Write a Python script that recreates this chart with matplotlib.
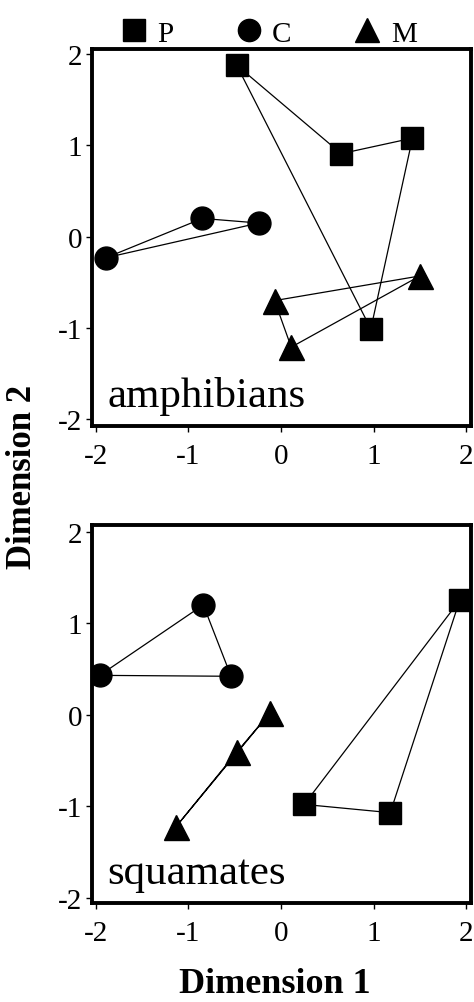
import matplotlib
matplotlib.use("Agg")
import matplotlib.pyplot as plt
from matplotlib.lines import Line2D

plt.rcParams['font.family'] = ['Liberation Serif', 'DejaVu Serif']

# ---- data (Dimension 1, Dimension 2) ----
amph_P_x = [-0.48, 0.65, 1.42, 0.97]
amph_P_y = [1.88, 0.91, 1.08, -1.01]
amph_C_x = [-0.85, -0.24, -1.89]
amph_C_y = [0.20, 0.15, -0.23]
amph_M_x = [1.50, -0.07, 0.11]
amph_M_y = [-0.43, -0.70, -1.21]

squa_P_x = [1.93, 0.25, 1.18]
squa_P_y = [1.25, -0.98, -1.07]
squa_C_x = [-0.84, -1.96, -0.54]
squa_C_y = [1.20, 0.43, 0.42]
squa_M_x = [-0.12, -0.48, -1.14]
squa_M_y = [0.02, -0.41, -1.23]

panel_names = ["amphibians", "squamates"]
ticks = [-2, -1, 0, 1, 2]
tick_labels = ["-2", "-1", "0", "1", "2"]
legend_labels = ["P", "C", "M"]

fig = plt.figure(figsize=(4.74, 10.03), dpi=100)
ax1 = fig.add_axes([0.194, 0.574, 0.800, 0.376])
ax2 = fig.add_axes([0.194, 0.0987, 0.800, 0.3769])

ms = 16.5
style = dict(color='black', lw=0.9)

def draw(ax, groups):
    for xs, ys, mk, sz in groups:
        ax.plot(list(xs) + [xs[0]], list(ys) + [ys[0]], '-', **style, zorder=2)
        ax.plot(xs, ys, linestyle='none', marker=mk, ms=sz, color='black',
                markeredgecolor='black', zorder=3)

draw(ax1, [(amph_P_x, amph_P_y, 's', ms), (amph_C_x, amph_C_y, 'o', ms),
           (amph_M_x, amph_M_y, '^', ms + 1.5)])
draw(ax2, [(squa_P_x, squa_P_y, 's', ms), (squa_C_x, squa_C_y, 'o', ms),
           (squa_M_x, squa_M_y, '^', ms + 1.5)])

lims = [((-2.043, 2.054), (-2.077, 2.055)), ((-2.043, 2.054), (-2.057, 2.073))]
for ax, name, (xl, yl) in zip([ax1, ax2], panel_names, lims):
    ax.set_xlim(*xl)
    ax.set_ylim(*yl)
    ax.set_xticks(ticks)
    ax.set_xticklabels(tick_labels)
    ax.set_yticks(ticks)
    ax.set_yticklabels(tick_labels)
    ax.tick_params(direction='out', length=4, width=1, labelsize=21)
    ax.tick_params(axis='x', pad=8)
    ax.tick_params(axis='y', pad=3)
    for sp in ax.spines.values():
        sp.set_linewidth(2.8)
    ax.text(0.04, 0.03, name, transform=ax.transAxes, fontsize=31,
            ha='left', va='bottom')

fig.text(0.58, 0.002, "Dimension 1", fontsize=26, fontweight='bold',
         ha='center', va='bottom')
fig.text(0.012, 0.524, "Dimension 2", fontsize=25, fontweight='bold',
         ha='left', va='center', rotation=90)

handles = [Line2D([], [], ls='none', marker=m, ms=s, color='black')
           for m, s in zip(['s', 'o', '^'], [16, 16, 17])]
fig.legend(handles, legend_labels, ncol=3, loc='upper center',
           bbox_to_anchor=(0.565, 1.005), frameon=False, fontsize=21,
           handletextpad=0.3, columnspacing=2.1, handlelength=1.0)

fig.savefig("out.png", dpi=100)
